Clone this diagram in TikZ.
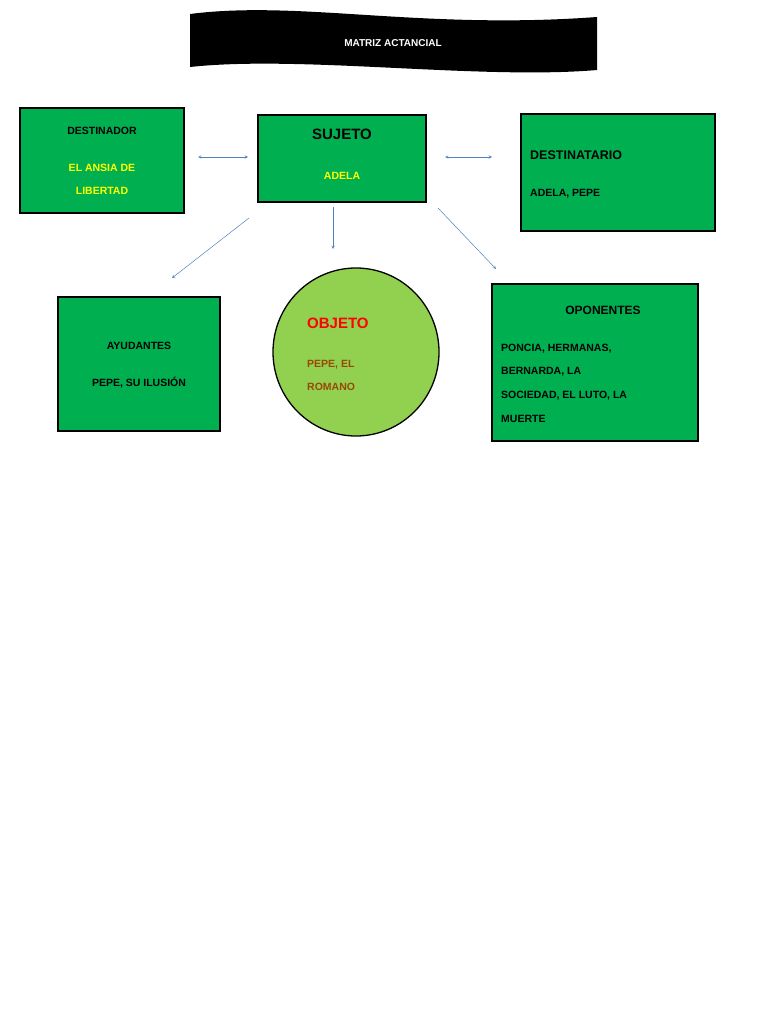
\documentclass[tikz,border=0pt]{standalone}
\usepackage{fontspec}
\setmainfont{Liberation Sans}
\begin{document}
\begin{tikzpicture}[x=1pt,y=-1pt,
  box/.style={draw=black,line width=1.3pt,fill=gbox},
  t/.style={font=\bfseries\fontsize{10.5}{12}\selectfont,inner sep=0pt},
  arr/.style={draw=arrblue,line width=0.5pt,-stealth}]
\definecolor{gbox}{HTML}{00B050}
\definecolor{lg}{HTML}{92D050}
\definecolor{arrblue}{HTML}{4F81BD}
\definecolor{ylw}{HTML}{FFFF00}
\definecolor{brn}{HTML}{984807}
\useasboundingbox (0,0) rectangle (768,1024);
\fill[black] (190,14) .. controls (300,0) and (420,30) .. (597,17) -- (597,70) .. controls (480,80) and (300,55) .. (190,67) -- cycle;
\node[t,white,font=\bfseries\fontsize{10}{12}\selectfont] (title) at (393,43) {MATRIZ ACTANCIAL};
\draw[box] (20,108) rectangle (184,213);
\node[t] (dor) at (102,131) {DESTINADOR};
\node[t,ylw] (dor1) at (102,168) {EL ANSIA DE};
\node[t,ylw] (dor2) at (102,191) {LIBERTAD};
\draw[box] (258,115) rectangle (426,202);
\node[t,font=\bfseries\fontsize{15}{16}\selectfont] (suj) at (342,134) {SUJETO};
\node[t,ylw] (suj1) at (342,176) {ADELA};
\draw[box] (521,114) rectangle (715,231);
\node[t,anchor=west,font=\bfseries\fontsize{12.5}{14}\selectfont] (dio) at (530,155) {DESTINATARIO};
\node[t,anchor=west] (dio1) at (530,194) {ADELA, PEPE};
\draw[box] (58,297) rectangle (220,431);
\node[t] (ayu) at (139,346) {AYUDANTES};
\node[t] (ayu1) at (139,383) {PEPE, SU ILUSIÓN};
\draw[draw=black,line width=1.3pt,fill=lg] (356,352) ellipse (83 and 84);
\node[t,anchor=west,red,font=\bfseries\fontsize{15}{16}\selectfont] (obj) at (307,323) {OBJETO};
\node[t,anchor=west,brn] (obj1) at (307,365) {PEPE, EL};
\node[t,anchor=west,brn] (obj2) at (307,387) {ROMANO};
\draw[box] (492,284) rectangle (698,441);
\node[t,font=\bfseries\fontsize{12}{14}\selectfont] (opo) at (603,310) {OPONENTES};
\node[t,anchor=west] (o1) at (501,349) {PONCIA, HERMANAS,};
\node[t,anchor=west] (o2) at (501,372) {BERNARDA, LA};
\node[t,anchor=west] (o3) at (501,396) {SOCIEDAD, EL LUTO, LA};
\node[t,anchor=west] (o4) at (501,419) {MUERTE};
\coordinate (a1) at (198,157); \coordinate (a2) at (248,157);
\coordinate (b1) at (445,157); \coordinate (b2) at (492,157);
\coordinate (c1) at (249,218); \coordinate (c2) at (172,278);
\coordinate (d1) at (333,207); \coordinate (d2) at (333,249);
\coordinate (e1) at (438,208); \coordinate (e2) at (496,269);
\draw[arr,stealth-stealth] (a1) -- (a2);
\draw[arr,stealth-stealth] (b1) -- (b2);
\draw[arr] (c1) -- (c2);
\draw[arr] (d1) -- (d2);
\draw[arr] (e1) -- (e2);
\end{tikzpicture}
\end{document}
